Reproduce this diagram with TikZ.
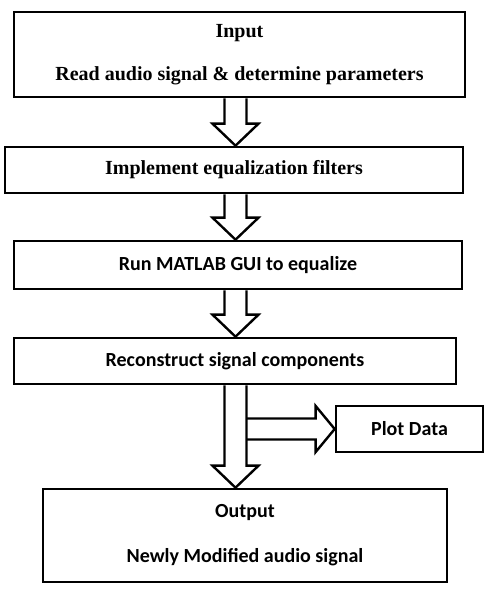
\documentclass[tikz,border=0pt]{standalone}
\usepackage{fontspec}
\setmainfont{Liberation Serif}
\newfontfamily\calfont{Carlito}
\usetikzlibrary{calc}
\newcommand\blkdown[2]{%
  \draw[blk] ($(ax|-#1.south)+(-11,0)$) -- ($(ax|-#2.north)+(-11,-22)$)
    -- ($(ax|-#2.north)+(-23,-22)$) -- (ax|-#2.north)
    -- ($(ax|-#2.north)+(23,-22)$) -- ($(ax|-#2.north)+(11,-22)$)
    -- ($(ax|-#1.south)+(11,0)$);}
\begin{document}
\begin{tikzpicture}[x=0.75pt,y=-0.75pt,
  box/.style={draw,line width=2pt,inner sep=0pt,align=center},
  serifbox/.style={box,font=\fontsize{15}{18}\selectfont\bfseries},
  sansbox/.style={box,font=\fontsize{15}{18}\selectfont\calfont\bfseries},
  blk/.style={draw,line width=1.8pt,line join=miter}]
\useasboundingbox (0,0) rectangle (497,595);
\node[serifbox,minimum width=451*0.75pt,minimum height=85*0.75pt] (in) at (239.5,54.5)
  {Input\\[14.25pt]Read audio signal \& determine parameters};
\node[serifbox,minimum width=458*0.75pt,minimum height=46*0.75pt] (eq) at (234,170)
  {Implement equalization filters};
\node[sansbox,minimum width=448*0.75pt,minimum height=48*0.75pt] (gui) at (238,265)
  {Run MATLAB GUI to equalize};
\node[sansbox,minimum width=442*0.75pt,minimum height=46*0.75pt] (rec) at (235,361)
  {Reconstruct signal components};
\node[sansbox,minimum width=147*0.75pt,minimum height=46*0.75pt] (plot) at (409.5,429)
  {Plot Data};
\node[sansbox,minimum width=404*0.75pt,minimum height=93*0.75pt] (out) at (245,535.5)
  {Output\\[15.75pt]Newly Modified audio signal};
\coordinate (ax) at (235.5,0);
\blkdown{in}{eq}
\blkdown{eq}{gui}
\blkdown{gui}{rec}
\blkdown{rec}{out}
\draw[blk] ($(ax|-plot.west)+(11,-10.5)$) -- ($(plot.west)+(-19,-10.5)$)
  -- ($(plot.west)+(-19,-23)$) -- (plot.west)
  -- ($(plot.west)+(-19,23)$) -- ($(plot.west)+(-19,10.5)$)
  -- ($(ax|-plot.west)+(11,10.5)$);
\end{tikzpicture}
\end{document}
